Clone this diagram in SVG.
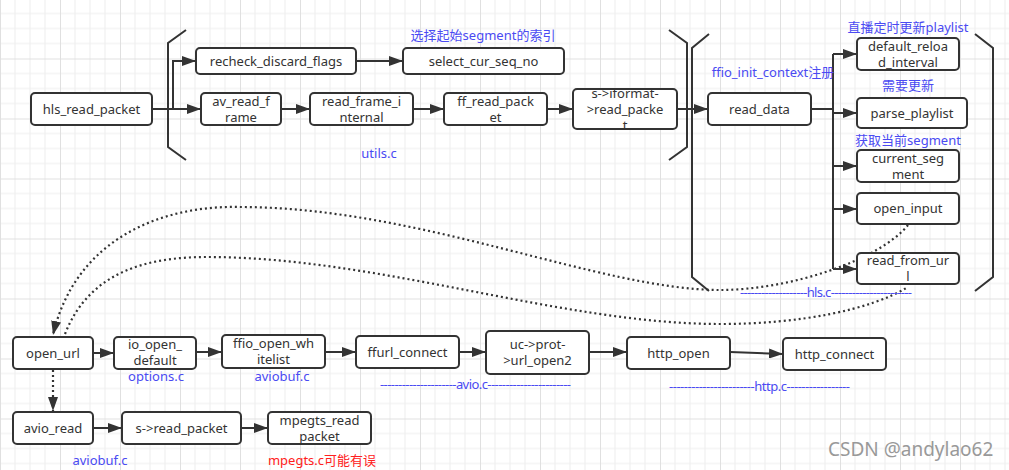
<svg xmlns="http://www.w3.org/2000/svg" width="1009" height="470" viewBox="0 0 1009 470">
<style>
.box{fill:#fff;stroke:#333;stroke-width:2}
.t{font-family:"Noto Sans","Noto Sans CJK SC",sans-serif;font-size:13px;fill:#333;text-anchor:middle}
.lb{font-family:"Noto Sans","Noto Sans CJK SC",sans-serif;font-size:13px;fill:#4a4af2;text-anchor:middle}
.red{fill:#ff2020}
.c{fill:none;stroke:#333;stroke-width:2}
.d{fill:none;stroke:#333;stroke-width:2.2;stroke-dasharray:2 3}
.br{fill:none;stroke:#333;stroke-width:2}
</style>
<defs>
<pattern id="g" patternUnits="userSpaceOnUse" x="0" y="-1.5" width="60" height="60">
<path d="M15 0V60M30 0V60M45 0V60M0 15H60M0 30H60M0 45H60" stroke="#ededed" stroke-width="1" fill="none"/>
<path d="M0.5 0V60M0 0.5H60" stroke="#e0e0e0" stroke-width="1" fill="none"/>
</pattern>
<marker id="a" markerUnits="userSpaceOnUse" markerWidth="14" markerHeight="10" refX="14" refY="5" orient="auto">
<path d="M0 0L14 5L0 10z" fill="#333"/>
</marker>
</defs>
<rect width="1009" height="470" fill="#fff"/>
<rect width="1009" height="470" fill="url(#g)"/>

<g id="brackets">
<path class="br" d="M186 30L168 43V147L186 160"/>
<path class="br" d="M669 30L687 43V147L669 160"/>
<path class="br" d="M709 34L692 48V277L709 291"/>
<path class="br" d="M975 34L993 48V277L975 291"/>
</g>

<g id="connectors">
<path class="c" d="M152 109H201" marker-end="url(#a)"/>
<path class="c" d="M173 109V61H196" marker-end="url(#a)"/>
<path class="c" d="M356 61H403" marker-end="url(#a)"/>
<path class="c" d="M281 109H310" marker-end="url(#a)"/>
<path class="c" d="M413 109H444" marker-end="url(#a)"/>
<path class="c" d="M547 109H573" marker-end="url(#a)"/>
<path class="c" d="M677 109H708" marker-end="url(#a)"/>
<path class="c" d="M811 109H833"/>
<path class="c" d="M833 54V269"/>
<path class="c" d="M833 54H857" marker-end="url(#a)"/>
<path class="c" d="M833 113H857" marker-end="url(#a)"/>
<path class="c" d="M833 166H857" marker-end="url(#a)"/>
<path class="c" d="M833 209H857" marker-end="url(#a)"/>
<path class="c" d="M833 269H857" marker-end="url(#a)"/>
<path class="d" d="M908 225C880 260 790 290 720 290C600 290 420 207 240 207C160 205 75 240 53 335" marker-end="url(#a)"/>
<path class="d" d="M65 334C90 270 150 257 207 257C380 257 560 324 720 324C800 324 870 310 908 287"/>
<path class="d" d="M53 370V411" marker-end="url(#a)"/>
<path class="c" d="M93 353H114" marker-end="url(#a)"/>
<path class="c" d="M196 352H222" marker-end="url(#a)"/>
<path class="c" d="M325 352H356" marker-end="url(#a)"/>
<path class="c" d="M459 352H486" marker-end="url(#a)"/>
<path class="c" d="M589 352H627" marker-end="url(#a)"/>
<path class="c" d="M730 352L783 354" marker-end="url(#a)"/>
<path class="c" d="M93 428H122" marker-end="url(#a)"/>
<path class="c" d="M241 428H268" marker-end="url(#a)"/>
</g>

<g id="hls_read_packet"><rect class="box" x="31" y="93" width="121" height="32" rx="4"/><text class="t" x="91.5" y="113.5">hls_read_packet</text></g>
<g id="recheck_discard_flags"><rect class="box" x="196" y="48" width="160" height="26" rx="4"/><text class="t" x="276" y="65.5">recheck_discard_flags</text></g>
<g id="select_cur_seq_no"><rect class="box" x="403" y="48" width="161" height="26" rx="4"/><text class="t" x="483.5" y="65.5">select_cur_seq_no</text></g>
<g id="av_read_frame"><rect class="box" x="201" y="93" width="80" height="32" rx="4"/><text class="t" x="241" y="106">av_read_f</text><text class="t" x="241" y="122">rame</text></g>
<g id="read_frame_internal"><rect class="box" x="310" y="93" width="103" height="32" rx="4"/><text class="t" x="361.5" y="106">read_frame_i</text><text class="t" x="361.5" y="122">nternal</text></g>
<g id="ff_read_packet"><rect class="box" x="444" y="93" width="103" height="32" rx="4"/><text class="t" x="495.5" y="106">ff_read_pack</text><text class="t" x="495.5" y="122">et</text></g>
<g id="s_iformat_read_packet"><rect class="box" x="573" y="89" width="104" height="40" rx="4"/><text class="t" x="625" y="98">s-&gt;iformat-</text><text class="t" x="625" y="114">&gt;read_packe</text><text class="t" x="625" y="130">t</text></g>
<g id="read_data"><rect class="box" x="708" y="93" width="103" height="32" rx="4"/><text class="t" x="759.5" y="113.5">read_data</text></g>
<g id="default_reload_interval"><rect class="box" x="857" y="38" width="102" height="32" rx="4"/><text class="t" x="908" y="51">default_reloa</text><text class="t" x="908" y="67">d_interval</text></g>
<g id="parse_playlist"><rect class="box" x="857" y="98" width="110" height="30" rx="4"/><text class="t" x="912" y="117.5">parse_playlist</text></g>
<g id="current_segment"><rect class="box" x="857" y="150" width="102" height="32" rx="4"/><text class="t" x="908" y="163">current_seg</text><text class="t" x="908" y="179">ment</text></g>
<g id="open_input"><rect class="box" x="857" y="193" width="102" height="31" rx="4"/><text class="t" x="908" y="213">open_input</text></g>
<g id="read_from_url"><rect class="box" x="857" y="253" width="102" height="31" rx="4"/><text class="t" x="908" y="265">read_from_ur</text><text class="t" x="908" y="281">l</text></g>
<g id="open_url"><rect class="box" x="13" y="337" width="80" height="32" rx="4"/><text class="t" x="53" y="357.5">open_url</text></g>
<g id="io_open_default"><rect class="box" x="114" y="337" width="82" height="32" rx="4"/><text class="t" x="155" y="349">io_open_</text><text class="t" x="155" y="365">default</text></g>
<g id="ffio_open_whitelist"><rect class="box" x="222" y="335" width="103" height="33" rx="4"/><text class="t" x="273.5" y="348">ffio_open_wh</text><text class="t" x="273.5" y="364">itelist</text></g>
<g id="ffurl_connect"><rect class="box" x="356" y="336" width="103" height="32" rx="4"/><text class="t" x="407.5" y="356.5">ffurl_connect</text></g>
<g id="uc_prot_url_open2"><rect class="box" x="486" y="331" width="103" height="43" rx="4"/><text class="t" x="537.5" y="349">uc-&gt;prot-</text><text class="t" x="537.5" y="365">&gt;url_open2</text></g>
<g id="http_open"><rect class="box" x="627" y="337" width="103" height="32" rx="4"/><text class="t" x="678.5" y="357.5">http_open</text></g>
<g id="http_connect"><rect class="box" x="783" y="338" width="103" height="32" rx="4"/><text class="t" x="834.5" y="358.5">http_connect</text></g>
<g id="avio_read"><rect class="box" x="13" y="412" width="80" height="32" rx="4"/><text class="t" x="53" y="432.5">avio_read</text></g>
<g id="s_read_packet"><rect class="box" x="122" y="412" width="119" height="32" rx="4"/><text class="t" x="181.5" y="432.5">s-&gt;read_packet</text></g>
<g id="mpegts_read_packet"><rect class="box" x="268" y="412" width="103" height="32" rx="4"/><text class="t" x="319.5" y="425">mpegts_read</text><text class="t" x="319.5" y="441">packet</text></g>

<g id="labels">
<text class="lb" x="483" y="40">选择起始segment的索引</text>
<text class="lb" x="379" y="158">utils.c</text>
<text class="lb" x="773" y="77">ffio_init_context注册</text>
<text class="lb" x="908" y="32">直播定时更新playlist</text>
<text class="lb" x="908" y="90">需要更新</text>
<text class="lb" x="908" y="145">获取当前segment</text>
<text class="lb" x="826" y="297" textLength="172" lengthAdjust="spacing">-------------------hls.c-----------------------</text>
<text class="lb" x="156" y="381">options.c</text>
<text class="lb" x="282" y="381">aviobuf.c</text>
<text class="lb" x="475.5" y="389" textLength="191" lengthAdjust="spacing">---------------------avio.c-----------------------</text>
<text class="lb" x="759.5" y="391" textLength="181" lengthAdjust="spacing">-----------------------http.c-----------------</text>
<text class="lb" x="100" y="465">aviobuf.c</text>
<text class="lb red" x="322" y="465">mpegts.c可能有误</text>
<text x="828" y="456" style="font-family:'Noto Sans',sans-serif;font-size:19px;fill:#999">CSDN @andylao62</text>
</g>
</svg>
